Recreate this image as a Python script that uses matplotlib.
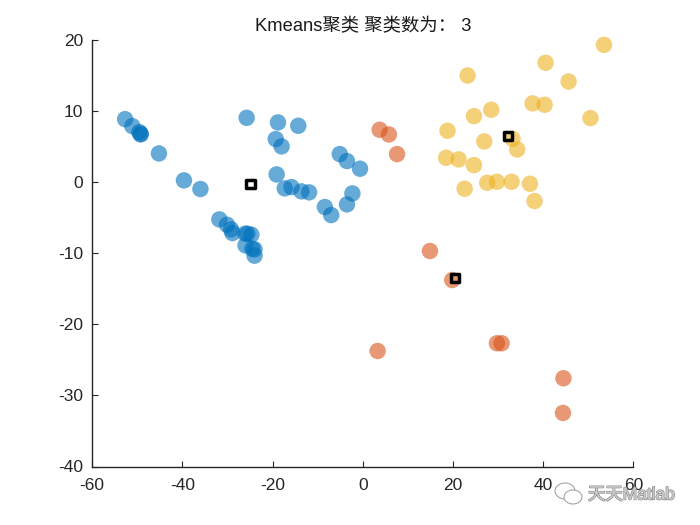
import matplotlib
matplotlib.use("Agg")
import matplotlib.pyplot as plt
import matplotlib.patheffects as pe
from matplotlib.patches import Ellipse

plt.rcParams["font.family"] = ["Liberation Sans", "Noto Sans CJK SC"]
plt.rcParams["axes.unicode_minus"] = False

# cluster points
blue_x = [-52.7, -51.1, -49.55, -49.25, -49.25, -45.2, -39.65, -36.0, -31.8, -30.1, -29.2, -28.9,
          -26.05, -25.6, -24.7, -26.0, -24.5, -24.0, -24.0, -25.75, -18.8, -14.3, -19.3, -18.0,
          -19.1, -17.3, -15.8, -13.6, -11.9, -8.4, -7.0, -3.5, -2.3, -5.1, -3.5, -0.6]
blue_y = [8.82, 7.84, 7.0, 6.76, 6.67, 4.0, 0.21, -1.0, -5.27, -6.02, -6.67, -7.19,
          -7.28, -7.28, -7.42, -8.92, -9.39, -9.48, -10.37, 9.01, 8.36, 7.89, 6.02, 4.99,
          1.05, -0.91, -0.73, -1.33, -1.47, -3.53, -4.66, -3.16, -1.62, 3.91, 2.93, 1.85]

orange_x = [3.74, 5.8, 7.6, 14.9, 19.85, 29.76, 30.8, 3.3, 44.5, 44.4]
orange_y = [7.33, 6.67, 3.91, -9.71, -13.79, -22.68, -22.68, -23.76, -27.6, -32.47]

yellow_x = [53.5, 40.55, 45.65, 23.25, 37.66, 40.33, 50.5, 28.5, 24.66, 18.8, 26.95, 33.2,
            34.26, 18.5, 21.26, 24.66, 27.6, 29.76, 33.0, 37.07, 38.1, 22.6]
yellow_y = [19.26, 16.74, 14.11, 14.96, 11.03, 10.84, 8.97, 10.14, 9.25, 7.19, 5.69, 6.06,
            4.56, 3.39, 3.16, 2.36, -0.12, 0.02, 0.02, -0.26, -2.69, -0.96]

center_x = [-24.9, 20.5, 32.27]
center_y = [-0.3, -13.46, 6.48]

x_ticks = [-60, -40, -20, 0, 20, 40, 60]
y_ticks = [-40, -30, -20, -10, 0, 10, 20]

fig = plt.figure(figsize=(7, 5.25), dpi=100)
ax = fig.add_axes([92.2 / 700, 1 - 466.5 / 525, 541.1 / 700, 426.9 / 525])

for xs, ys, col in [(blue_x, blue_y, "#0072BD"), (orange_x, orange_y, "#D95319"), (yellow_x, yellow_y, "#EDB120")]:
    ax.scatter(xs, ys, s=140, c=col, alpha=.6, edgecolors="none", zorder=2, clip_on=False)
ax.scatter(center_x, center_y, s=36, marker="s", facecolors="none", edgecolors="black", linewidths=2.5, zorder=3)

ax.set_xlim(-60, 60); ax.set_ylim(-40, 20)
ax.set_xticks(x_ticks); ax.set_yticks(y_ticks)
ax.spines[["top", "right"]].set_visible(False)
for side in ["left", "bottom"]:
    ax.spines[side].set_linewidth(1.0)
    ax.spines[side].set_color("#262626")
ax.tick_params(direction="in", length=4.5, width=.8, color="#262626", labelcolor="#262626", labelsize=12.5)
ax.tick_params(axis="x", pad=8)
ax.tick_params(axis="y", pad=6.5)
ax.set_title("Kmeans聚类 聚类数为： 3", fontsize=13.2, color="#1a1a1a", pad=6)

# watermark at the bottom right, drawn in pixel coordinates
over = fig.add_axes([0, 0, 1, 1], facecolor="none")
over.set_xlim(0, 700); over.set_ylim(525, 0); over.axis("off")
over.add_patch(Ellipse((565, 491), 20, 16, fill=False, ec="#9a9a9a", lw=.7))
over.add_patch(Ellipse((573, 497), 18, 14, facecolor="white", ec="#9a9a9a", lw=.7))
over.text(588, 495, "天天Matlab", fontsize=12.5, color="#c8c8c8", va="center", ha="left",
          path_effects=[pe.withStroke(linewidth=1.0, foreground="#808080"), pe.Normal()])

fig.savefig("out.png", dpi=100, facecolor="white")
